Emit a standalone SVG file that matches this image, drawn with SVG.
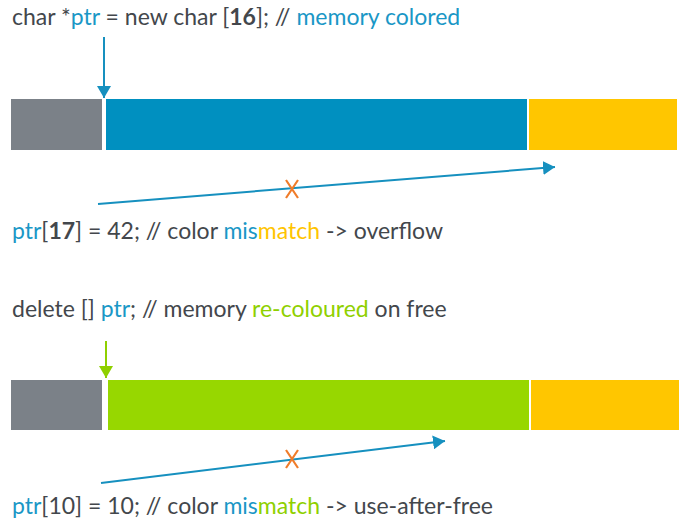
<svg xmlns="http://www.w3.org/2000/svg" width="686" height="518" viewBox="0 0 686 518">
<defs>
<style>
text{font-family:Lato,"Open Sans","Liberation Sans",sans-serif;font-size:23px;fill:#43474c}
.b{fill:#1a97c6}.y{fill:#ffc400}.g{fill:#8fd000}.k{font-weight:bold}
.conn{stroke:#1690bf;stroke-width:2;fill:none}
.x{stroke:#f07c2a;stroke-width:2.2;fill:none}
</style>
<marker id="ab" viewBox="0 0 12 14" refX="12" refY="7" markerWidth="12" markerHeight="14" markerUnits="userSpaceOnUse" orient="auto"><path d="M0,0L12,7L0,14z" fill="#1690bf"/></marker>
<marker id="ag" viewBox="0 0 12 14" refX="12" refY="7" markerWidth="12" markerHeight="14" markerUnits="userSpaceOnUse" orient="auto"><path d="M0,0L12,7L0,14z" fill="#8fd000"/></marker>
</defs>
<rect width="686" height="518" fill="#ffffff"/>
<g id="label1"><text x="12" y="25">char *<tspan class="b">ptr</tspan> = new char [<tspan class="k">16</tspan>]; // <tspan class="b">memory colored</tspan></text></g>
<g id="bar1">
<rect x="11" y="99" width="91" height="51" fill="#7b8188"/>
<rect x="106" y="99" width="421" height="51" fill="#0090c0"/>
<rect x="529" y="99" width="148" height="51" fill="#ffc600"/>
</g>
<g id="label2"><text x="12" y="239"><tspan class="b">ptr</tspan>[<tspan class="k">17</tspan>] = 42; // color <tspan class="b">mis</tspan><tspan class="y">match</tspan> -&gt; overflow</text></g>
<g id="label3"><text x="12" y="317">delete [] <tspan class="b">ptr</tspan>; // memory <tspan class="g">re-coloured</tspan> on free</text></g>
<g id="bar2">
<rect x="11" y="380" width="91" height="50" fill="#7b8188"/>
<rect x="108" y="380" width="421" height="50" fill="#97d700"/>
<rect x="531" y="380" width="148" height="50" fill="#ffc600"/>
</g>
<g id="label4"><text x="12" y="514"><tspan class="b">ptr</tspan>[10] = 10; // color <tspan class="b">mis</tspan><tspan class="g">match</tspan> -&gt; use-after-free</text></g>
<g id="connectors">
<line class="conn" x1="104" y1="37" x2="104" y2="98" marker-end="url(#ab)"/>
<line class="conn" x1="98" y1="204" x2="555" y2="167" marker-end="url(#ab)"/>
<line x1="106" y1="341" x2="106" y2="378" stroke="#8fd000" stroke-width="2" marker-end="url(#ag)"/>
<line class="conn" x1="101" y1="483" x2="445" y2="441" marker-end="url(#ab)"/>
</g>
<g id="marks">
<path class="x" d="M286,180L298,198M298,180L286,198"/>
<path class="x" d="M286,450L298,468M298,450L286,468"/>
</g>
</svg>
